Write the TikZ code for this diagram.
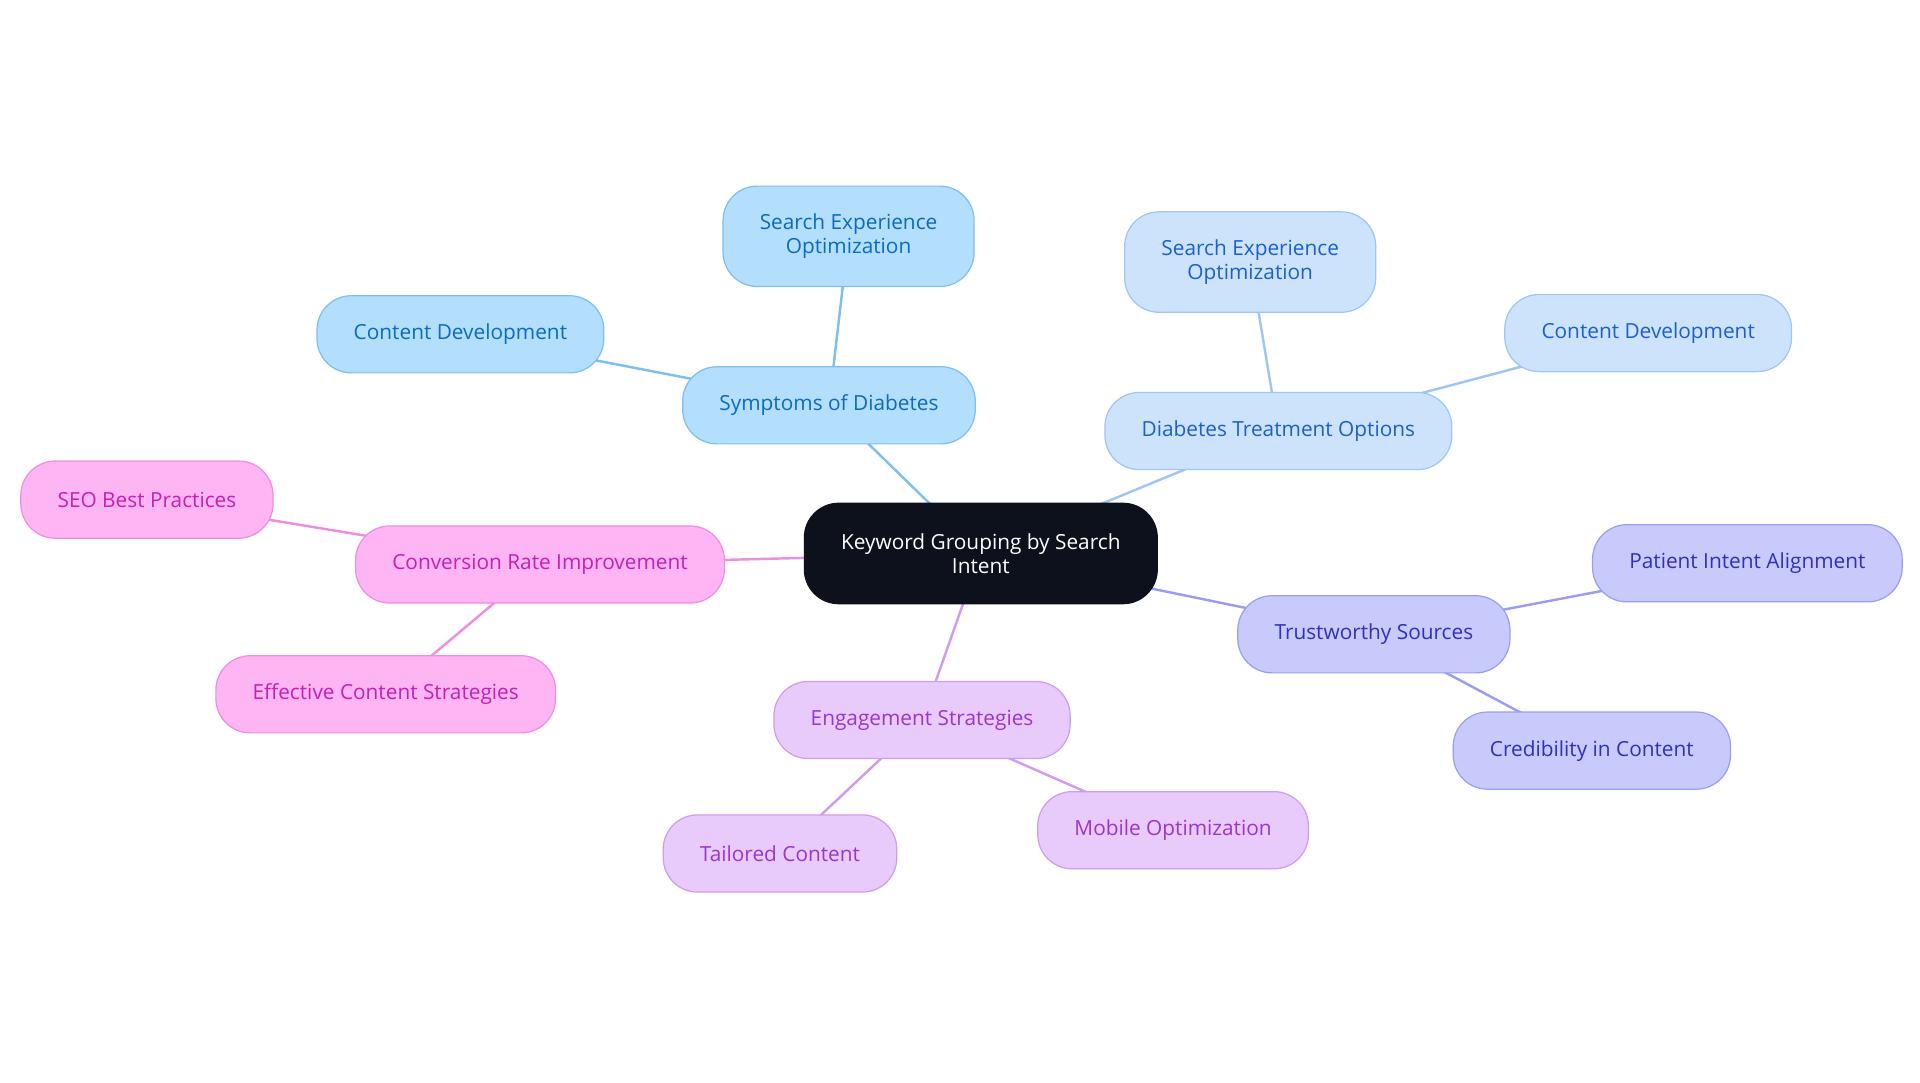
\documentclass[tikz,border=0pt]{standalone}
\usepackage{fontspec}
\setmainfont{Open Sans}
\usetikzlibrary{backgrounds}

\definecolor{rootfill}{HTML}{0C111B}
\definecolor{sympfill}{HTML}{B3DFFC}
\definecolor{sympline}{HTML}{7CBFF0}
\definecolor{symptext}{HTML}{0A6BC0}
\definecolor{treatfill}{HTML}{CDE3FB}
\definecolor{treatline}{HTML}{9EC6F4}
\definecolor{treattext}{HTML}{1C5FCF}
\definecolor{trustfill}{HTML}{C8CAFC}
\definecolor{trustline}{HTML}{9A9EF3}
\definecolor{trusttext}{HTML}{2F30BF}
\definecolor{engfill}{HTML}{E8CAFB}
\definecolor{engline}{HTML}{CF9CF2}
\definecolor{engtext}{HTML}{9A36D0}
\definecolor{convfill}{HTML}{FDB5F3}
\definecolor{convline}{HTML}{F08DE1}
\definecolor{convtext}{HTML}{C81FB2}

\begin{document}
\begin{tikzpicture}[%
x=1pt, y=-1pt,
every node/.style={font=\fontsize{17}{19.5}\selectfont, align=center},
bubble/.style={rectangle, rounded corners=28pt, inner xsep=30pt, minimum height=63pt, line width=1pt},
tall/.style={minimum height=82pt},
root/.style={bubble, tall, fill=rootfill, draw=rootfill, text=white},
symp/.style={bubble, fill=sympfill, draw=sympline, text=symptext},
treat/.style={bubble, fill=treatfill, draw=treatline, text=treattext},
trust/.style={bubble, fill=trustfill, draw=trustline, text=trusttext},
eng/.style={bubble, fill=engfill, draw=engline, text=engtext},
conv/.style={bubble, fill=convfill, draw=convline, text=convtext},
link/.style={line width=2pt},
]

\useasboundingbox (0,0) rectangle (1568,884);

% centre
\node[root](kg) at (801,452){Keyword Grouping by Search\\Intent};

% symptoms
\node[symp](sd)  at (677,331){Symptoms of Diabetes};
\node[symp, tall](sd1) at (693,193){Search Experience\\Optimization};
\node[symp](sd2) at (376,273){Content Development};

% treatment
\node[treat](dt)  at (1044,352){Diabetes Treatment Options};
\node[treat, tall](dt1) at (1021,214){Search Experience\\Optimization};
\node[treat](dt2) at (1346,272){Content Development};

% trust
\node[trust](ts)  at (1122,518){Trustworthy Sources};
\node[trust](ts1) at (1427,460){Patient Intent Alignment};
\node[trust](ts2) at (1300,613){Credibility in Content};

% engagement
\node[eng](es)  at (753,588){Engagement Strategies};
\node[eng](es1) at (637,697){Tailored Content};
\node[eng](es2) at (958,678){Mobile Optimization};

% conversion
\node[conv](cr)  at (441,461){Conversion Rate Improvement};
\node[conv](cr1) at (120,408){SEO Best Practices};
\node[conv](cr2) at (315,567){Effective Content Strategies};

\begin{scope}[on background layer]
\draw[link, sympline] (kg.center)--(sd.center);
\draw[link, sympline] (sd.center)--(sd1.center);
\draw[link, sympline] (sd.center)--(sd2.center);

\draw[link, treatline] (kg.center)--(dt.center);
\draw[link, treatline] (dt.center)--(dt1.center);
\draw[link, treatline] (dt.center)--(dt2.center);

\draw[link, trustline] (kg.center)--(ts.center);
\draw[link, trustline] (ts.center)--(ts1.center);
\draw[link, trustline] (ts.center)--(ts2.center);

\draw[link, engline] (kg.center)--(es.center);
\draw[link, engline] (es.center)--(es1.center);
\draw[link, engline] (es.center)--(es2.center);

\draw[link, convline] (kg.center)--(cr.center);
\draw[link, convline] (cr.center)--(cr1.center);
\draw[link, convline] (cr.center)--(cr2.center);
\end{scope}

\end{tikzpicture}
\end{document}
